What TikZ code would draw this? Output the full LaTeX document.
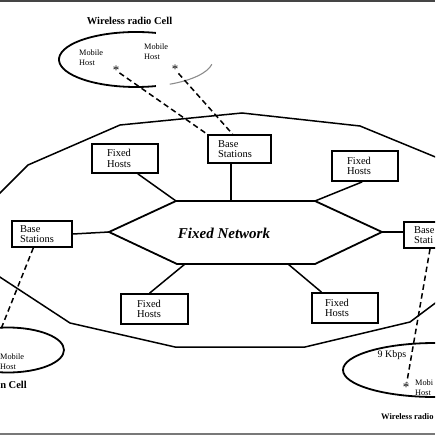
\documentclass[tikz,border=0pt]{standalone}
\usepackage{fontspec}
\setmainfont{Liberation Serif}
\begin{document}
\begin{tikzpicture}[x=1pt,y=-1pt,
  box/.style={draw, line width=1.8pt, align=left, inner ysep=0pt, font=\fontsize{10.5}{10.5}\selectfont},
  wire/.style={line width=1.5pt},
  hexline/.style={line width=1.8pt},
  radio/.style={line width=1.5pt, dash pattern=on 5.5pt off 3.5pt},
  cell/.style={line width=1.8pt},
  small/.style={font=\fontsize{8.3}{10}\selectfont, align=left, inner sep=0pt},
  starmark/.style={font=\fontsize{13}{13}\selectfont, inner sep=0pt},
  celltitle/.style={font=\bfseries\fontsize{10.5}{12}\selectfont, inner sep=0pt}]
\useasboundingbox (0,0) rectangle (435,435);
\clip (0,0) rectangle (435,435);

% outer network boundary
\draw[wire] (-20,213) -- (28,165) -- (120,125) -- (242,113) -- (360,126) -- (450,163);
\draw[wire] (450,292) -- (410,322) -- (305,347) -- (175,347) -- (70,323) -- (-20,264);

% fixed network hexagon
\coordinate (h1) at (176,201);
\coordinate (h2) at (315,201);
\coordinate (h3) at (382,232);
\coordinate (h4) at (315,264);
\coordinate (h5) at (177,264);
\coordinate (h6) at (109,232);
\coordinate (ht) at (231,201);
\coordinate (hb1) at (185,264);
\coordinate (hb2) at (288,264);
\draw[hexline] (h1) -- (h2) -- (h3) -- (h4) -- (h5) -- (h6) -- cycle;
\node[font=\bfseries\itshape\fontsize{15}{18}\selectfont] (fn) at (224,233) {Fixed Network};

% boxes
\node[box, text width=36pt, inner xsep=15pt, minimum height=29pt] (fh1) at (125,158.5) {Fixed\\Hosts};
\node[box, text width=43pt, inner xsep=10pt, minimum height=28pt] (bs1) at (239.5,149) {Base\\Stations};
\node[box, text width=36pt, inner xsep=15pt, minimum height=30pt] (fh2) at (365,166) {Fixed\\Hosts};
\node[box, text width=44pt, inner xsep=8pt, minimum height=26pt] (bs2) at (42,234) {Base\\Stations};
\node[box, text width=40pt, inner xsep=10pt, minimum height=26pt] (bs3) at (434,235) {Base\\Stati};
\node[box, text width=35pt, inner xsep=16pt, minimum height=30pt] (fh3) at (154.5,309) {Fixed\\Hosts};
\node[box, text width=40pt, inner xsep=13pt, minimum height=30pt] (fh4) at (345,308) {Fixed\\Hosts};

% wired connectors
\draw[wire] (fh1.-50) -- (h1);
\draw[wire] (bs1.south -| ht) -- (ht);
\draw[wire] (fh2.-100) -- (h2);
\draw[wire] (bs2.east) -- (h6);
\draw[wire] (h3) -- (bs3.west |- h3);
\draw[wire] (hb1) -- (fh3.107);
\draw[wire] (hb2) -- (fh4.146);

% top wireless cell
\node[celltitle] (t1) at (129.5,21) {Wireless radio Cell};
\draw[cell] (155.93,32.94) arc[start angle=-75, end angle=-285, x radius=77, y radius=27.5];
\draw[line width=1.1pt, black!45] (169.75,84.22) arc[start angle=64, end angle=10, x radius=77, y radius=27.5];
\node[small, anchor=north west] (m1) at (79,49.4) {Mobile\\Host};
\node[small, anchor=north west] (m2) at (144,43.4) {Mobile\\Host};
\node[starmark] (a1) at (116,70.5) {*};
\node[starmark] (a2) at (175,69.5) {*};
\draw[radio] (a1) -- (bs1.north west);
\draw[radio] (a2) -- (bs1.115);

% bottom-left wireless cell
\draw[cell] (8,350) ellipse [x radius=56, y radius=22.5];
\node[small, anchor=north west, font=\fontsize{8.3}{10.5}\selectfont] (m3) at (0,353.4) {Mobile\\Host};
\node[celltitle, anchor=east] (t2) at (27,385) {n Cell};
\coordinate (c1) at (1,329);
\draw[radio] (bs2.-122) -- (c1);

% bottom-right wireless cell
\draw[cell] (435,370) ellipse [x radius=92, y radius=27];
\node[font=\fontsize{10}{10}\selectfont, inner sep=0pt] (kb) at (392,355) {9 Kbps};
\node[starmark] (a3) at (406,387) {*};
\node[small, anchor=north west] (m4) at (415,379.4) {Mobi\\Host};
\node[font=\bfseries\fontsize{8.5}{10}\selectfont, inner sep=0pt, anchor=west] (t3) at (381,417) {Wireless radio};
\draw[radio] (bs3.-106) -- (a3);

% frame bars
\fill[black!73] (0,0) rectangle (435,2);
\fill[black!53] (0,433) rectangle (435,435);
\end{tikzpicture}
\end{document}
